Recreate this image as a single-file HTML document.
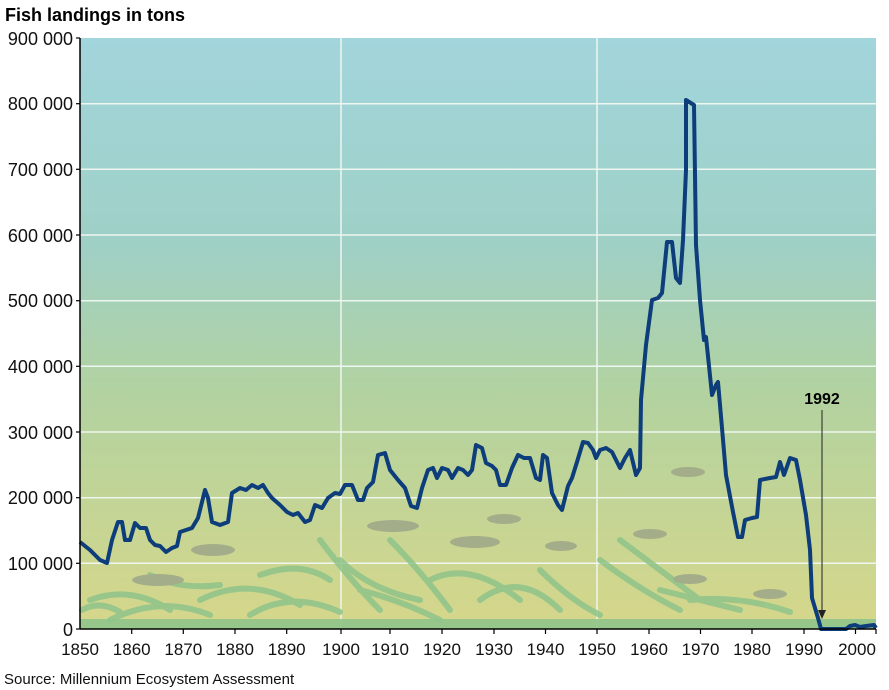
<!DOCTYPE html>
<html><head><meta charset="utf-8"><style>
body{margin:0;background:#fff;width:889px;height:690px;overflow:hidden}
svg{display:block;font-family:"Liberation Sans",Arial,sans-serif}
</style></head><body>
<svg width="889" height="690" viewBox="0 0 889 690">
<defs>
<linearGradient id="bg" x1="0" y1="0" x2="0" y2="1">
<stop offset="0" stop-color="#a2d5dc"/>
<stop offset="0.35" stop-color="#9fd0c6"/>
<stop offset="0.6" stop-color="#b2d2a0"/>
<stop offset="1" stop-color="#d6d78a"/>
</linearGradient>
</defs>
<rect x="80" y="38" width="796" height="591" fill="url(#bg)"/>
<g stroke="#eef6f0" stroke-width="1.5">
<line x1="80" y1="103.7" x2="876" y2="103.7"/>
<line x1="80" y1="169.3" x2="876" y2="169.3"/>
<line x1="80" y1="235" x2="876" y2="235"/>
<line x1="80" y1="300.7" x2="876" y2="300.7"/>
<line x1="80" y1="366.3" x2="876" y2="366.3"/>
<line x1="80" y1="432" x2="876" y2="432"/>
<line x1="80" y1="497.7" x2="876" y2="497.7"/>
<line x1="80" y1="563.3" x2="876" y2="563.3"/>
<line x1="341" y1="38" x2="341" y2="629"/>
<line x1="597" y1="38" x2="597" y2="629"/>
</g>
<!-- seaweed -->
<g fill="none" stroke="#8fc48a" stroke-width="6" stroke-linecap="round" opacity="0.85">
<path d="M90 600 Q130 585 170 610"/><path d="M110 620 Q160 595 210 615"/>
<path d="M200 600 Q250 575 300 605"/><path d="M250 615 Q290 590 340 612"/>
<path d="M320 540 Q350 580 380 610"/><path d="M340 560 Q370 590 420 600"/>
<path d="M390 540 Q420 570 450 610"/><path d="M430 580 Q470 560 520 600"/>
<path d="M480 600 Q520 570 560 610"/><path d="M540 570 Q570 600 600 615"/>
<path d="M600 560 Q640 590 680 610"/><path d="M620 540 Q660 570 700 600"/>
<path d="M660 590 Q700 600 740 610"/><path d="M690 600 Q740 595 790 612"/>
<path d="M82 610 Q100 600 120 612"/><path d="M150 575 Q180 590 220 585"/>
<path d="M260 575 Q300 560 330 580"/><path d="M360 590 Q400 600 440 620"/>
</g>
<rect x="80" y="619" width="796" height="10" fill="#8fc48a" opacity="0.9"/>
<!-- fish -->
<g fill="#a3ad8a">
<ellipse cx="158" cy="580" rx="26" ry="6"/><ellipse cx="213" cy="550" rx="22" ry="6"/>
<ellipse cx="393" cy="526" rx="26" ry="6"/><ellipse cx="475" cy="542" rx="25" ry="6"/>
<ellipse cx="504" cy="519" rx="17" ry="5"/><ellipse cx="561" cy="546" rx="16" ry="5"/>
<ellipse cx="650" cy="534" rx="17" ry="5"/><ellipse cx="688" cy="472" rx="17" ry="5"/>
<ellipse cx="690" cy="579" rx="17" ry="5"/><ellipse cx="770" cy="594" rx="17" ry="5"/>
</g>
<!-- data -->
<polyline fill="none" stroke="#0d3d7a" stroke-width="4" stroke-linejoin="round" points="80,542 90,550 100,560 107,563 112,540 118,522 122,522 125,540 130,540 135,523 140,528 146,528 150,540 155,545 160,546 166,552 172,548 177,546 180,532 186,530 192,528 198,518 205,490 208,498 212,522 220,525 228,522 232,493 240,488 246,490 252,485 258,488 263,485 268,493 272,498 280,505 287,512 293,515 298,513 305,522 310,520 315,505 322,508 328,498 335,493 340,494 345,485 352,485 358,500 363,500 367,488 373,482 378,455 385,453 390,470 398,480 405,488 411,506 417,508 422,488 428,470 433,468 437,478 442,468 448,470 452,478 458,468 463,470 468,475 472,470 476,445 482,448 486,463 492,466 496,470 500,485 506,485 512,468 518,455 524,458 530,458 536,478 540,480 543,455 547,458 552,493 558,505 562,510 568,486 572,478 577,462 583,442 588,443 593,450 596,458 600,450 606,448 612,452 616,460 620,468 625,458 630,450 636,475 640,468 641,400 646,345 652,300 658,298 662,293 667,242 672,242 676,278 680,283 683,240 686,170 686,100 694,105 696,245 700,300 704,340 706,337 712,395 716,385 718,382 722,428 726,475 733,512 738,537 742,537 745,520 752,518 757,517 760,480 770,478 776,477 780,462 784,475 790,458 796,460 800,480 806,515 810,550 812,598 818,618 821,629 846,629 850,626 855,625 860,627 866,626 874,625 876,628"/>
<!-- axes -->
<g stroke="#000" stroke-width="1.5">
<line x1="80" y1="38" x2="80" y2="629"/>
<line x1="80" y1="629" x2="876" y2="629"/>
</g>
<g stroke="#000" stroke-width="1.2">
<line x1="76" y1="38" x2="80" y2="38"/><line x1="76" y1="103.7" x2="80" y2="103.7"/><line x1="76" y1="169.3" x2="80" y2="169.3"/><line x1="76" y1="235" x2="80" y2="235"/><line x1="76" y1="300.7" x2="80" y2="300.7"/><line x1="76" y1="366.3" x2="80" y2="366.3"/><line x1="76" y1="432" x2="80" y2="432"/><line x1="76" y1="497.7" x2="80" y2="497.7"/><line x1="76" y1="563.3" x2="80" y2="563.3"/><line x1="76" y1="629" x2="80" y2="629"/>
<line x1="131.7" y1="629" x2="131.7" y2="634"/><line x1="183.3" y1="629" x2="183.3" y2="634"/><line x1="235" y1="629" x2="235" y2="634"/><line x1="286.7" y1="629" x2="286.7" y2="634"/><line x1="341" y1="629" x2="341" y2="634"/><line x1="390" y1="629" x2="390" y2="634"/><line x1="442" y1="629" x2="442" y2="634"/><line x1="494" y1="629" x2="494" y2="634"/><line x1="545.5" y1="629" x2="545.5" y2="634"/><line x1="597" y1="629" x2="597" y2="634"/><line x1="649" y1="629" x2="649" y2="634"/><line x1="700.5" y1="629" x2="700.5" y2="634"/><line x1="752" y1="629" x2="752" y2="634"/><line x1="804" y1="629" x2="804" y2="634"/><line x1="855.5" y1="629" x2="855.5" y2="634"/><line x1="876" y1="629" x2="876" y2="634"/>
</g>
<!-- 1992 arrow -->
<line x1="822" y1="410" x2="822" y2="612" stroke="#222" stroke-width="1"/>
<path d="M818 610 L822 619 L826 610 Z" fill="#222"/>
<text x="822" y="404" font-size="16" font-weight="bold" text-anchor="middle">1992</text>
<text x="5" y="21" font-size="18" font-weight="bold">Fish landings in tons</text>
<g font-size="18" text-anchor="end" fill="#111">
<text x="73" y="45">900 000</text><text x="73" y="110">800 000</text><text x="73" y="176">700 000</text><text x="73" y="242">600 000</text><text x="73" y="307">500 000</text><text x="73" y="373">400 000</text><text x="73" y="439">300 000</text><text x="73" y="504">200 000</text><text x="73" y="570">100 000</text><text x="73" y="636">0</text>
</g>
<g font-size="17" text-anchor="middle" fill="#111">
<text x="80" y="655">1850</text><text x="131.7" y="655">1860</text><text x="183.3" y="655">1870</text><text x="235" y="655">1880</text><text x="286.7" y="655">1890</text><text x="341" y="655">1900</text><text x="390" y="655">1910</text><text x="442" y="655">1920</text><text x="494" y="655">1930</text><text x="545.5" y="655">1940</text><text x="597" y="655">1950</text><text x="649" y="655">1960</text><text x="700.5" y="655">1970</text><text x="752" y="655">1980</text><text x="804" y="655">1990</text><text x="857" y="655">2000</text>
</g>
<text x="4" y="684" font-size="15" fill="#111">Source: Millennium Ecosystem Assessment</text>
</svg>
</body></html>
